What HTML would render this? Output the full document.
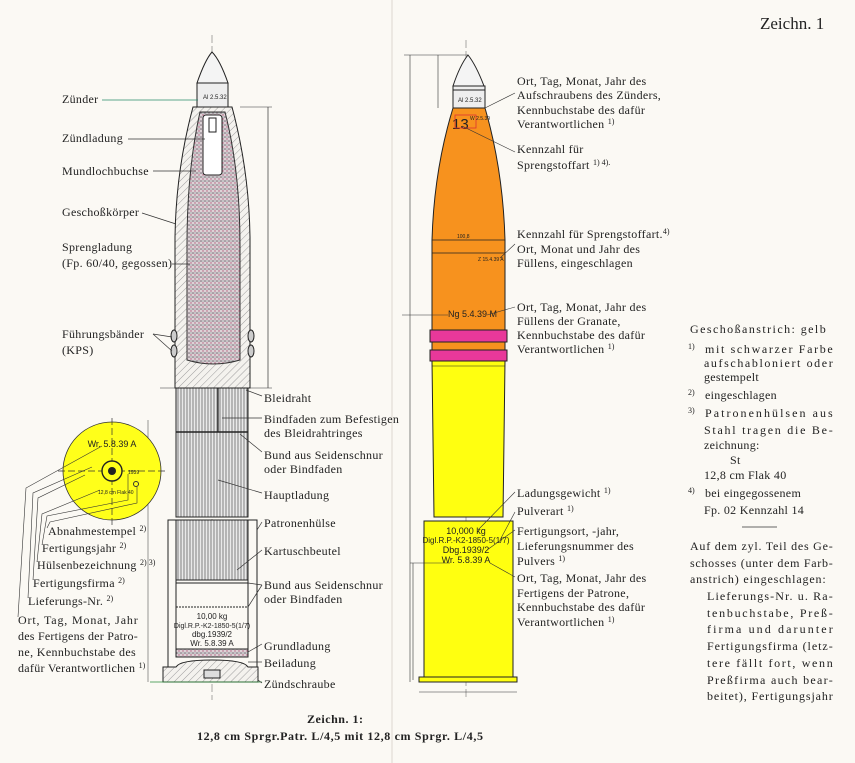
<!DOCTYPE html>
<html><head><meta charset="utf-8"><style>
html,body{margin:0;padding:0;background:#fbf9f4;}
svg{display:block;}
text{font-family:"Liberation Serif",serif;font-size:12px;letter-spacing:0.3px;fill:#222;}
.s{font-family:"Liberation Sans",sans-serif;font-size:8px;letter-spacing:0;}
.f{font-size:8px;letter-spacing:0;}
</style></head><body>
<svg width="855" height="763" viewBox="0 0 855 763" xmlns="http://www.w3.org/2000/svg">
<defs>
<pattern id="h" width="5" height="5" patternUnits="userSpaceOnUse" patternTransform="rotate(45)">
<rect width="5" height="5" fill="#f4f2ee"/><line x1="0" y1="0" x2="0" y2="5" stroke="#888" stroke-width="0.8"/></pattern>
<pattern id="d" width="4" height="4" patternUnits="userSpaceOnUse">
<rect width="4" height="4" fill="#ddd2d6"/><circle cx="1" cy="1" r="0.8" fill="#6f6570"/><circle cx="3" cy="3" r="0.7" fill="#b05a7a"/><circle cx="3" cy="1" r="0.5" fill="#5a8a7a"/></pattern>
<pattern id="v" width="3" height="10" patternUnits="userSpaceOnUse">
<rect width="3" height="10" fill="#e9e9e9"/><line x1="1" y1="0" x2="1" y2="10" stroke="#666" stroke-width="0.8"/></pattern>
</defs>
<rect width="855" height="763" fill="#fbf9f4"/>
<line x1="392" y1="0" x2="392" y2="763" stroke="#ddd8d0" stroke-width="1"/>
<text x="760" y="29" style="font-size:17px;letter-spacing:0">Zeichn. 1</text>

<!-- LEFT SHELL -->
<line x1="212" y1="35" x2="212" y2="700" stroke="#555" stroke-width="0.5" stroke-dasharray="8,3"/>
<path d="M212,52 Q205,60 197,83 L228,83 Q220,60 212,52Z" fill="#f4f4f4" stroke="#222"/>
<rect x="197" y="83" width="31" height="24" fill="#eee" stroke="#222"/>
<text class="s" x="203" y="99" style="font-size:6px">Al 2.5.32</text>
<path d="M193,107 Q176,170 175,237 L175,388 L250,388 L250,237 Q249,170 232,107Z" fill="url(#h)" stroke="#222"/>
<path d="M200,112 L225,112 Q240,170 240,245 L240,360 Q213,368 187,360 L187,245 Q187,170 200,112Z" fill="url(#d)" stroke="#333"/>
<rect x="203" y="115" width="19" height="60" rx="3" fill="#fff" stroke="#222"/>
<rect x="209" y="118" width="7" height="14" fill="#fff" stroke="#222"/>
<ellipse cx="174" cy="336" rx="3" ry="6" fill="#ccc" stroke="#222"/><ellipse cx="174" cy="351" rx="3" ry="6" fill="#ccc" stroke="#222"/>
<ellipse cx="251" cy="336" rx="3" ry="6" fill="#ccc" stroke="#222"/><ellipse cx="251" cy="351" rx="3" ry="6" fill="#ccc" stroke="#222"/>
<line x1="268" y1="107" x2="268" y2="388" stroke="#333" stroke-width="0.7"/>
<line x1="240" y1="107" x2="272" y2="107" stroke="#333" stroke-width="0.6"/>
<line x1="160" y1="388" x2="272" y2="388" stroke="#333" stroke-width="0.6"/>
<rect x="176" y="388" width="72" height="129" fill="url(#v)" stroke="#222"/>
<line x1="176" y1="432" x2="248" y2="432" stroke="#222" stroke-width="1.5"/>
<line x1="218" y1="388" x2="218" y2="432" stroke="#222" stroke-width="1.2"/>
<rect x="168" y="520" width="89" height="157" fill="#fbf9f4" stroke="#222"/>
<rect x="176" y="520" width="72" height="60" fill="url(#v)" stroke="#222"/>
<line x1="176" y1="580" x2="176" y2="650" stroke="#222"/><line x1="248" y1="580" x2="248" y2="650" stroke="#222"/>
<line x1="176" y1="583" x2="248" y2="583" stroke="#222"/>
<line x1="176" y1="607" x2="248" y2="607" stroke="#222" stroke-dasharray="2,1"/>
<text class="s" x="212" y="619" text-anchor="middle">10,00 kg</text>
<text class="s" x="212" y="628" text-anchor="middle" style="font-size:7px">Digl.R.P.-K2-1850-5(1/7)</text>
<text class="s" x="212" y="637" text-anchor="middle">dbg.1939/2</text>
<text class="s" x="212" y="646" text-anchor="middle">Wr. 5.8.39 A</text>
<rect x="176" y="649" width="72" height="8" fill="url(#d)" stroke="#222"/>
<path d="M163,677 L163,667 L176,667 Q180,660 212,660 Q244,660 248,667 L258,667 L258,682 L163,682Z" fill="url(#h)" stroke="#222"/>
<rect x="204" y="670" width="16" height="8" fill="#ddd" stroke="#222"/>
<line x1="150" y1="682" x2="262" y2="682" stroke="#2a8a3a" stroke-width="0.8"/>
<line x1="148" y1="420" x2="148" y2="682" stroke="#555" stroke-width="0.6"/>

<!-- left labels -->
<text x="62" y="103">Zünder</text><line x1="102" y1="100" x2="198" y2="100" stroke="#2a8a6a" stroke-width="0.8"/>
<text x="62" y="142">Zündladung</text><line x1="128" y1="139" x2="205" y2="139" stroke="#333" stroke-width="0.7"/>
<text x="62" y="175">Mundlochbuchse</text><line x1="153" y1="171" x2="196" y2="171" stroke="#333" stroke-width="0.7"/>
<text x="62" y="216">Geschoßkörper</text><line x1="142" y1="213" x2="176" y2="224" stroke="#333" stroke-width="0.7"/>
<text x="62" y="251">Sprengladung</text>
<text x="62" y="267">(Fp. 60/40, gegossen)</text><line x1="172" y1="264" x2="190" y2="264" stroke="#333" stroke-width="0.7"/>
<text x="62" y="338">Führungsbänder</text><text x="62" y="354">(KPS)</text>
<line x1="153" y1="334" x2="172" y2="337" stroke="#333" stroke-width="0.7"/><line x1="153" y1="334" x2="172" y2="351" stroke="#333" stroke-width="0.7"/>

<!-- middle labels -->
<g stroke="#333" stroke-width="0.7">
<line x1="246" y1="390" x2="262" y2="396"/><line x1="222" y1="418" x2="262" y2="418"/>
<line x1="240" y1="434" x2="262" y2="452"/><line x1="218" y1="480" x2="262" y2="493"/>
<line x1="257" y1="530" x2="262" y2="522"/><line x1="237" y1="570" x2="262" y2="550"/>
<line x1="248" y1="583" x2="262" y2="585"/><line x1="248" y1="607" x2="262" y2="585"/>
<line x1="248" y1="652" x2="262" y2="644"/><line x1="248" y1="662" x2="262" y2="662"/><line x1="258" y1="680" x2="262" y2="683"/>
</g>
<text x="264" y="402">Bleidraht</text>
<text x="264" y="423">Bindfaden zum Befestigen</text><text x="264" y="437">des Bleidrahtringes</text>
<text x="264" y="459">Bund aus Seidenschnur</text><text x="264" y="473">oder Bindfaden</text>
<text x="264" y="499">Hauptladung</text>
<text x="264" y="527">Patronenhülse</text>
<text x="264" y="555">Kartuschbeutel</text>
<text x="264" y="589">Bund aus Seidenschnur</text><text x="264" y="603">oder Bindfaden</text>
<text x="264" y="650">Grundladung</text>
<text x="264" y="667">Beiladung</text>
<text x="264" y="688">Zündschraube</text>

<!-- circle -->
<circle cx="112" cy="471" r="49" fill="#ffff1a" stroke="#333" stroke-width="0.8"/>
<line x1="58" y1="471" x2="165" y2="471" stroke="#333" stroke-width="0.7" stroke-dasharray="7,3"/>
<line x1="112" y1="418" x2="112" y2="525" stroke="#333" stroke-width="0.7" stroke-dasharray="7,3"/>
<circle cx="112" cy="471" r="10" fill="#ffff1a" stroke="#222" stroke-width="1.4"/>
<circle cx="112" cy="471" r="4" fill="#222"/>
<text class="s" x="112" y="447" text-anchor="middle" style="font-size:9px">Wr. 5.8.39 A</text>
<text class="s" x="128" y="474" style="font-size:5px">1939</text>
<text class="s" x="98" y="494" style="font-size:5px">12,8 cm Flak 40</text>
<circle cx="136" cy="484" r="2.5" fill="none" stroke="#333"/>
<g stroke="#333" stroke-width="0.6" fill="none">
<polyline points="102,446 26,488 18,617"/><polyline points="92,467 33,493 28,598"/>
<polyline points="85,475 38,498 33,580"/><polyline points="100,490 42,514 37,562"/>
<polyline points="128,474 128,500 47,516 42,545"/><polyline points="137,487 137,503 50,522 47,528"/>
</g>
<text x="48" y="535">Abnahmestempel <tspan class="f" dy="-4">2)</tspan></text>
<text x="42" y="552">Fertigungsjahr <tspan class="f" dy="-4">2)</tspan></text>
<text x="37" y="569">Hülsenbezeichnung <tspan class="f" dy="-4">2) 3)</tspan></text>
<text x="33" y="587">Fertigungsfirma <tspan class="f" dy="-4">2)</tspan></text>
<text x="28" y="605">Lieferungs-Nr. <tspan class="f" dy="-4">2)</tspan></text>
<text x="18" y="624" textLength="120">Ort, Tag, Monat, Jahr</text>
<text x="18" y="640" textLength="120">des Fertigens der Patro-</text>
<text x="18" y="656" textLength="118">ne, Kennbuchstabe des</text>
<text x="18" y="672">dafür Verantwortlichen <tspan class="f" dy="-4">1)</tspan></text>

<!-- RIGHT SHELL -->
<line x1="466" y1="40" x2="466" y2="700" stroke="#555" stroke-width="0.5" stroke-dasharray="8,3"/>
<path d="M468,55 Q460,65 453,86 L484,86 Q476,65 468,55Z" fill="#f4f4f4" stroke="#222"/>
<rect x="453" y="86" width="32" height="22" fill="#eee" stroke="#222"/>
<line x1="453" y1="90" x2="485" y2="90" stroke="#222"/>
<text class="s" x="458" y="102" style="font-size:6px">Al 2.5.32</text>
<path d="M453,108 L485,108 Q503,170 505,240 L505,330 L432,330 L432,240 Q434,170 453,108Z" fill="#f7921e" stroke="#222"/>
<line x1="432" y1="240" x2="505" y2="240" stroke="#222" stroke-width="0.8"/>
<line x1="432" y1="253" x2="505" y2="253" stroke="#222" stroke-width="0.8"/>
<text x="452" y="129" style="font-family:'Liberation Sans',sans-serif;font-size:15px;letter-spacing:0">13</text>
<rect x="455" y="115" width="21" height="13" fill="none" stroke="#d33" stroke-width="0.8"/>
<text class="s" x="470" y="120" style="font-size:5px">W 2.5.39</text>
<text class="s" x="457" y="238" style="font-size:5px">100,8</text>
<text class="s" x="478" y="261" style="font-size:5px">Z 15.4.39 A</text>
<text class="s" x="448" y="317" style="font-size:9px">Ng 5.4.39 M</text>
<rect x="430" y="330" width="77" height="12" fill="#e8389a" stroke="#222"/>
<rect x="432" y="342" width="73" height="8" fill="#f7921e" stroke="#222"/>
<rect x="430" y="350" width="77" height="11" fill="#e8389a" stroke="#222"/>
<path d="M432,361 L505,361 L503,517 L434,517Z" fill="#ffff10" stroke="#222"/>
<line x1="432" y1="366" x2="505" y2="366" stroke="#222" stroke-width="0.6"/>
<rect x="424" y="521" width="89" height="156" fill="#ffff10" stroke="#222"/>
<rect x="419" y="677" width="98" height="5" fill="#ffff10" stroke="#222"/>
<text class="s" x="466" y="534" text-anchor="middle" style="font-size:9px">10,000 kg</text>
<text class="s" x="466" y="543" text-anchor="middle" style="font-size:8px">Digl.R.P.-K2-1850-5(1/7)</text>
<text class="s" x="466" y="553" text-anchor="middle" style="font-size:9px">Dbg.1939/2</text>
<text class="s" x="466" y="563" text-anchor="middle" style="font-size:9px">Wr. 5.8.39 A</text>
<g stroke="#333" stroke-width="0.6">
<line x1="410" y1="55" x2="410" y2="682"/><line x1="404" y1="55" x2="468" y2="55"/>
<line x1="438" y1="55" x2="438" y2="108"/><line x1="402" y1="315" x2="448" y2="315"/>
<line x1="413" y1="563" x2="413" y2="680"/><line x1="410" y1="563" x2="450" y2="563"/>
<line x1="419" y1="692" x2="517" y2="692"/>
<line x1="485" y1="108" x2="515" y2="93"/><line x1="462" y1="126" x2="515" y2="152"/>
<line x1="500" y1="258" x2="515" y2="244"/><line x1="487" y1="315" x2="515" y2="307"/>
<line x1="478" y1="530" x2="515" y2="492"/><line x1="500" y1="540" x2="515" y2="512"/>
<line x1="487" y1="550" x2="515" y2="530"/><line x1="490" y1="563" x2="515" y2="577"/>
</g>

<!-- right labels -->
<g>
<text x="517" y="85">Ort, Tag, Monat, Jahr des</text>
<text x="517" y="99">Aufschraubens des Zünders,</text>
<text x="517" y="114">Kennbuchstabe des dafür</text>
<text x="517" y="128">Verantwortlichen <tspan class="f" dy="-4">1)</tspan></text>
<text x="517" y="153">Kennzahl für</text>
<text x="517" y="169">Sprengstoffart <tspan class="f" dy="-4">1) 4).</tspan></text>
<text x="517" y="238">Kennzahl für Sprengstoffart.<tspan class="f" dy="-4">4)</tspan></text>
<text x="517" y="253">Ort, Monat und Jahr des</text>
<text x="517" y="267">Füllens, eingeschlagen</text>
<text x="517" y="311">Ort, Tag, Monat, Jahr des</text>
<text x="517" y="325">Füllens der Granate,</text>
<text x="517" y="339">Kennbuchstabe des dafür</text>
<text x="517" y="353">Verantwortlichen <tspan class="f" dy="-4">1)</tspan></text>
<text x="517" y="497">Ladungsgewicht <tspan class="f" dy="-4">1)</tspan></text>
<text x="517" y="515">Pulverart <tspan class="f" dy="-4">1)</tspan></text>
<text x="517" y="535">Fertigungsort, -jahr,</text>
<text x="517" y="550">Lieferungsnummer des</text>
<text x="517" y="565">Pulvers <tspan class="f" dy="-4">1)</tspan></text>
<text x="517" y="582">Ort, Tag, Monat, Jahr des</text>
<text x="517" y="597">Fertigens der Patrone,</text>
<text x="517" y="611">Kennbuchstabe des dafür</text>
<text x="517" y="626">Verantwortlichen <tspan class="f" dy="-4">1)</tspan></text>
</g>

<!-- notes -->
<g>
<text x="690" y="333" textLength="136">Geschoßanstrich: gelb</text>
<text class="f" x="688" y="349">1)</text><text x="705" y="353" textLength="128">mit schwarzer Farbe</text>
<text x="704" y="367" textLength="129">aufschabloniert oder</text>
<text x="704" y="381">gestempelt</text>
<text class="f" x="688" y="395">2)</text><text x="705" y="399">eingeschlagen</text>
<text class="f" x="688" y="413">3)</text><text x="705" y="417" textLength="128">Patronenhülsen aus</text>
<text x="704" y="434" textLength="129">Stahl tragen die Be-</text>
<text x="704" y="449">zeichnung:</text>
<text x="730" y="464">St</text>
<text x="704" y="479">12,8 cm Flak 40</text>
<text class="f" x="688" y="493">4)</text><text x="705" y="497">bei eingegossenem</text>
<text x="704" y="514">Fp. 02 Kennzahl 14</text>
<line x1="742" y1="527" x2="777" y2="527" stroke="#333" stroke-width="0.8"/>
<text x="690" y="550" textLength="143">Auf dem zyl. Teil des Ge-</text>
<text x="690" y="567" textLength="143">schosses (unter dem Farb-</text>
<text x="690" y="583" textLength="136">anstrich) eingeschlagen:</text>
<text x="707" y="600" textLength="126">Lieferungs-Nr. u. Ra-</text>
<text x="707" y="617" textLength="126">tenbuchstabe, Preß-</text>
<text x="707" y="633" textLength="126">firma und darunter</text>
<text x="707" y="650" textLength="126">Fertigungsfirma (letz-</text>
<text x="707" y="667" textLength="126">tere fällt fort, wenn</text>
<text x="707" y="684" textLength="126">Preßfirma auch bear-</text>
<text x="707" y="700" textLength="126">beitet), Fertigungsjahr</text>
</g>

<text x="307" y="723" textLength="56" style="font-weight:bold;font-size:12px;letter-spacing:0">Zeichn. 1:</text>
<text x="197" y="740" textLength="286" style="font-weight:bold;font-size:12px;letter-spacing:0">12,8 cm Sprgr.Patr. L/4,5  mit  12,8 cm Sprgr. L/4,5</text>
</svg>
</body></html>
